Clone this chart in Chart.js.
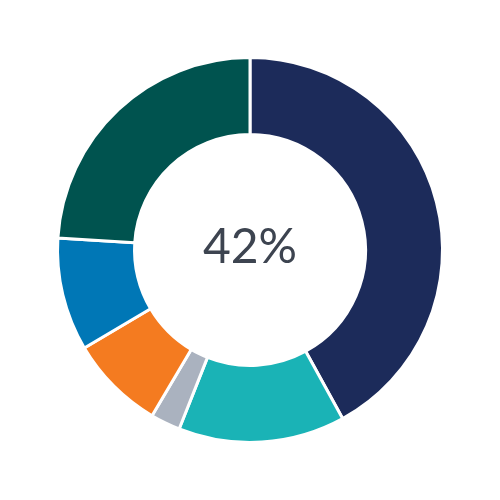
<!DOCTYPE html>
<html><head><meta charset="utf-8">
<script src="https://cdn.jsdelivr.net/npm/chart.js@4"></script>
<style>html,body{margin:0;padding:0;background:#fff;}#wrap{position:relative;width:500px;height:500px;}#c{display:block}
#center{position:absolute;left:0;top:0;width:500px;height:500px;display:flex;align-items:center;justify-content:center;font-family:Lato,"Open Sans",sans-serif;font-weight:400;font-size:48px;color:#3d4450;pointer-events:none;}</style>
</head><body>
<div id="wrap"><canvas id="c" width="500" height="500"></canvas><div id="center"><span id="lbl" style="position:relative;top:-6px">42%</span></div></div>
<script>
const categories = ["Segment A","Segment B","Segment C","Segment D","Segment E","Segment F"];
const values = [42, 14, 2.5, 8, 9.5, 24];
const centerLabel = "42%";
const colors = ["#1c2b5a","#1ab3b6","#aab2bf","#f47b20","#0077b6","#00534f"];
document.getElementById('lbl').textContent = centerLabel;
new Chart(document.getElementById('c'), {
  type: 'doughnut',
  data: { labels: categories, datasets: [{ data: values, backgroundColor: colors, borderColor: '#ffffff', borderWidth: 3, hoverOffset: 0 }] },
  options: {
    responsive: false, animation: false, cutout: '60%',
    layout: { padding: 56 },
    plugins: { legend: { display: false }, tooltip: { enabled: false } }
  }
});
</script>
</body></html>
